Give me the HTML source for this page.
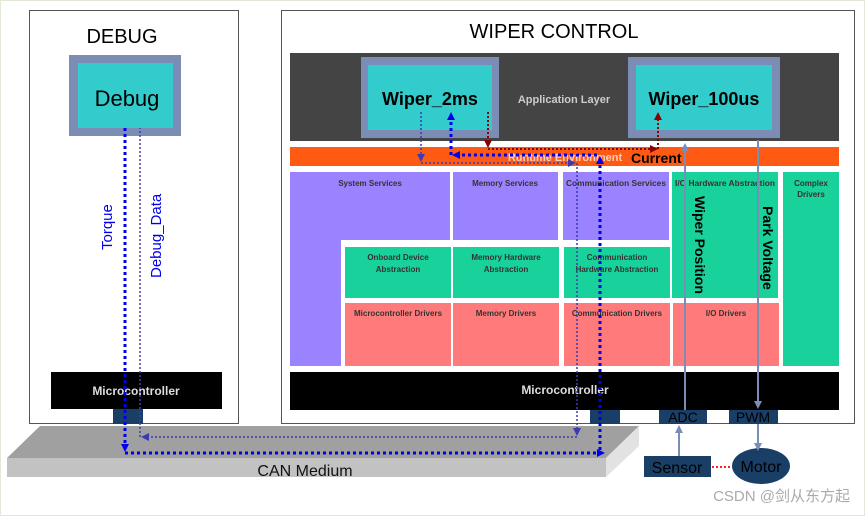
<!DOCTYPE html>
<html><head><meta charset="utf-8"><style>body{margin:0;background:#fff}svg{display:block}</style></head><body>
<svg width="865" height="516" viewBox="0 0 865 516" xmlns="http://www.w3.org/2000/svg" font-family="Liberation Sans, Arial, sans-serif">
<defs>
<marker id="ab" markerWidth="8" markerHeight="8" refX="6" refY="4" orient="auto" markerUnits="userSpaceOnUse"><path d="M0,0 L8,4 L0,8 z" fill="#0000ee"/></marker>
<marker id="at" markerWidth="8" markerHeight="8" refX="6" refY="4" orient="auto" markerUnits="userSpaceOnUse"><path d="M0,0 L8,4 L0,8 z" fill="#3b3bb0"/></marker>
<marker id="ar" markerWidth="8" markerHeight="8" refX="6" refY="4" orient="auto" markerUnits="userSpaceOnUse"><path d="M0,0 L8,4 L0,8 z" fill="#8b0000"/></marker>
<marker id="ag" markerWidth="8" markerHeight="8" refX="6" refY="4" orient="auto" markerUnits="userSpaceOnUse"><path d="M0,0 L8,4 L0,8 z" fill="#7b8db5"/></marker>
</defs>
<rect x="0.5" y="0.5" width="864" height="515" fill="#fff" stroke="#dfe9d6"/>
<polygon points="40,426 639,426 606,458 7,458" fill="#a0a0a0"/>
<rect x="7" y="458" width="599" height="19" fill="#c2c2c2"/>
<polygon points="606,458 639,426 639,446 606,477" fill="#e2e2e2"/>
<text x="305" y="476" font-size="16" text-anchor="middle" fill="#111">CAN Medium</text>
<rect x="29.5" y="10.5" width="209" height="413" fill="#fff" stroke="#555"/>
<text x="122" y="43" font-size="20" text-anchor="middle" fill="#000">DEBUG</text>
<rect x="69" y="55" width="112" height="81" fill="#7b8db5"/>
<rect x="78" y="63" width="95" height="65" fill="#33cccc"/>
<text x="127" y="106" font-size="22" text-anchor="middle" fill="#000">Debug</text>
<rect x="51" y="372" width="171" height="37" fill="#000"/>
<text x="136" y="395" font-size="12" font-weight="bold" text-anchor="middle" fill="#ddd">Microcontroller</text>
<rect x="113" y="409" width="30" height="15" fill="#1a3f66"/>
<rect x="281.5" y="10.5" width="573" height="413" fill="#fff" stroke="#555"/>
<text x="554" y="38" font-size="20" text-anchor="middle" fill="#000">WIPER CONTROL</text>
<rect x="290" y="53" width="549" height="88" fill="#444"/>
<text x="564" y="103" font-size="11" font-weight="bold" text-anchor="middle" fill="#ccc">Application Layer</text>
<rect x="361" y="57" width="138" height="81" fill="#7b8db5"/>
<rect x="368" y="65" width="124" height="65" fill="#33cccc"/>
<text x="430" y="105" font-size="18" font-weight="bold" text-anchor="middle" fill="#000">Wiper_2ms</text>
<rect x="628" y="57" width="152" height="81" fill="#7b8db5"/>
<rect x="636" y="65" width="136" height="65" fill="#33cccc"/>
<text x="704" y="105" font-size="18" font-weight="bold" text-anchor="middle" fill="#000">Wiper_100us</text>
<rect x="290" y="147" width="549" height="19" fill="#ff5a14"/>
<text x="565" y="161" font-size="11" font-weight="bold" text-anchor="middle" fill="#ffd0b8">Runtime Environment</text>
<rect x="290" y="172" width="160" height="68" fill="#9b82ff"/>
<rect x="290" y="240" width="51" height="126" fill="#9b82ff"/>
<rect x="453" y="172" width="105" height="68" fill="#9b82ff"/>
<rect x="563" y="172" width="106" height="68" fill="#9b82ff"/>
<rect x="672" y="172" width="106" height="126" fill="#19d19a"/>
<rect x="783" y="172" width="56" height="194" fill="#19d19a"/>
<g font-size="8" font-weight="bold" fill="#333" text-anchor="middle">
<text x="370" y="186">System Services</text>
<text x="505" y="186">Memory Services</text>
<text x="616" y="186" textLength="100" lengthAdjust="spacingAndGlyphs">Communication Services</text>
<text x="725" y="186" textLength="100" lengthAdjust="spacingAndGlyphs">I/O Hardware Abstraction</text>
<text x="811" y="186">Complex</text><text x="811" y="197">Drivers</text>
</g>
<rect x="345" y="247" width="106" height="51" fill="#19d19a"/>
<rect x="453" y="247" width="106" height="51" fill="#19d19a"/>
<rect x="564" y="247" width="106" height="51" fill="#19d19a"/>
<rect x="345" y="303" width="106" height="63" fill="#ff7b7b"/>
<rect x="453" y="303" width="106" height="63" fill="#ff7b7b"/>
<rect x="564" y="303" width="106" height="63" fill="#ff7b7b"/>
<rect x="673" y="303" width="106" height="63" fill="#ff7b7b"/>
<g font-size="8" font-weight="bold" fill="#333" text-anchor="middle">
<text x="398" y="260">Onboard Device</text><text x="398" y="272">Abstraction</text>
<text x="506" y="260">Memory Hardware</text><text x="506" y="272">Abstraction</text>
<text x="617" y="260">Communication</text><text x="617" y="272">Hardware Abstraction</text>
<text x="398" y="316">Microcontroller Drivers</text>
<text x="506" y="316">Memory Drivers</text>
<text x="617" y="316">Communication Drivers</text>
<text x="726" y="316">I/O Drivers</text>
</g>
<rect x="290" y="372" width="549" height="38" fill="#000"/>
<text x="565" y="394" font-size="12" font-weight="bold" text-anchor="middle" fill="#ddd">Microcontroller</text>
<rect x="590" y="410" width="30" height="14" fill="#1a3f66"/>
<rect x="659" y="410" width="48" height="14" fill="#1a3f66"/>
<text x="683" y="422" font-size="14" text-anchor="middle" fill="#000">ADC</text>
<rect x="729" y="410" width="49" height="14" fill="#1a3f66"/>
<text x="753" y="422" font-size="14" text-anchor="middle" fill="#000">PWM</text>
<rect x="644" y="456" width="67" height="21" fill="#1a3f66"/>
<text x="677" y="473" font-size="16" text-anchor="middle" fill="#000">Sensor</text>
<ellipse cx="761" cy="466" rx="29" ry="18" fill="#1a3f66"/>
<text x="761" y="472" font-size="16" text-anchor="middle" fill="#000">Motor</text>
<line x1="712" y1="467" x2="732" y2="467" stroke="#ff2020" stroke-width="2" stroke-dasharray="2,2"/>
<line x1="685" y1="410" x2="685" y2="145" stroke="#7b8db5" stroke-width="2" marker-end="url(#ag)"/>
<line x1="679" y1="456" x2="679" y2="427" stroke="#7b8db5" stroke-width="2" marker-end="url(#ag)"/>
<line x1="758" y1="140" x2="758" y2="407" stroke="#7b8db5" stroke-width="2" marker-end="url(#ag)"/>
<line x1="758" y1="424" x2="758" y2="449" stroke="#7b8db5" stroke-width="2" marker-end="url(#ag)"/>
<text transform="translate(695,196) rotate(90)" font-size="14" font-weight="bold" fill="#000">Wiper Position</text>
<text transform="translate(763,206) rotate(90)" font-size="14" font-weight="bold" fill="#000">Park Voltage</text>
<line x1="421" y1="112" x2="421" y2="160" stroke="#3b3bb0" stroke-width="1.5" stroke-dasharray="2,2" marker-end="url(#at)"/>
<line x1="421" y1="163" x2="574" y2="163" stroke="#3b3bb0" stroke-width="1.5" stroke-dasharray="2,2" marker-end="url(#at)"/>
<line x1="577" y1="163" x2="577" y2="434" stroke="#3b3bb0" stroke-width="1.5" stroke-dasharray="2,2" marker-end="url(#at)"/>
<line x1="577" y1="437" x2="143" y2="437" stroke="#3b3bb0" stroke-width="1.5" stroke-dasharray="2,2" marker-end="url(#at)"/>
<line x1="140" y1="437" x2="140" y2="128" stroke="#3b3bb0" stroke-width="1.5" stroke-dasharray="2,2"/>
<line x1="125" y1="128" x2="125" y2="450" stroke="#0000ee" stroke-width="3" stroke-dasharray="3,3" marker-end="url(#ab)"/>
<line x1="125" y1="453" x2="603" y2="453" stroke="#0000ee" stroke-width="3" stroke-dasharray="3,3" marker-end="url(#ab)"/>
<line x1="600" y1="450" x2="600" y2="158" stroke="#0000ee" stroke-width="3" stroke-dasharray="3,3" marker-end="url(#ab)"/>
<line x1="597" y1="155" x2="454" y2="155" stroke="#0000ee" stroke-width="3" stroke-dasharray="3,3" marker-end="url(#ab)"/>
<line x1="451" y1="155" x2="451" y2="114" stroke="#0000ee" stroke-width="3" stroke-dasharray="3,3" marker-end="url(#ab)"/>
<line x1="488" y1="112" x2="488" y2="146" stroke="#8b0000" stroke-width="2" stroke-dasharray="2,2" marker-end="url(#ar)"/>
<line x1="488" y1="149" x2="656" y2="149" stroke="#8b0000" stroke-width="2" stroke-dasharray="2,2" marker-end="url(#ar)"/>
<line x1="658" y1="149" x2="658" y2="114" stroke="#8b0000" stroke-width="2" stroke-dasharray="2,2" marker-end="url(#ar)"/>
<text x="631" y="163" font-size="14" font-weight="bold" fill="#000">Current</text>
<text transform="translate(112,250) rotate(-90)" font-size="15" fill="#0000ee">Torque</text>
<text transform="translate(161,278) rotate(-90)" font-size="15" fill="#0000ee">Debug_Data</text>
<text x="850" y="501" font-size="15" text-anchor="end" fill="#aaa" font-family="Liberation Sans, Noto Sans CJK SC, sans-serif">CSDN @剑从东方起</text>
</svg>
</body></html>
